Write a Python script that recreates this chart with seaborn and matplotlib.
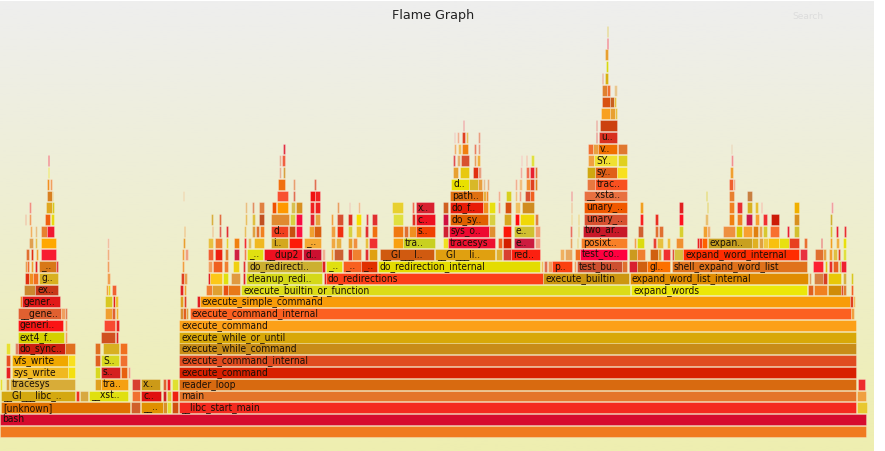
import numpy as np
import pandas as pd
import matplotlib
matplotlib.use("Agg")
import matplotlib.pyplot as plt
import seaborn as sns

# each frame: (function name, first sample, last sample, colour); list index = stack depth
level_00 = [("", 0, 866, "#f07a20")]
level_01 = [("bash", 0, 866, "#d60b2e")]
level_02 = [("[unknown]", 1, 130, "#e07000"), ("", 131, 140, "#d0602a"), ("__..", 141, 163, "#e09000"), ("", 163, 167, "#d8902a"),
            ("", 167, 171, "#e0e030"), ("", 172, 178, "#d05010"), ("__libc_start_main", 179, 856, "#f42a1e"), ("", 857, 867, "#e8c830")]
level_03 = [("__GI___libc_..", 1, 75, "#d4a810"), ("", 76, 79, "#f03020"), ("", 80, 88, "#d8a840"), ("__xst..", 89, 128, "#e0e010"),
            ("", 132, 140, "#f07030"), ("c..", 141, 161, "#e01010"), ("", 163, 166, "#d02020"), ("", 167, 171, "#e0c030"),
            ("", 172, 178, "#ee2010"), ("main", 179, 856, "#e4752a"), ("", 857, 866, "#f0a040")]
level_04 = [("", 0, 2, "#e8e030"), ("", 6, 9, "#d8a040"), ("tracesys", 10, 75, "#d8ac38"), ("", 95, 101, "#e0a020"),
            ("tra..", 101, 128, "#f5a010"), ("", 132, 140, "#d84030"), ("x..", 141, 160, "#cc9a18"), ("", 163, 166, "#e06030"),
            ("", 167, 170, "#f02020"), ("", 172, 178, "#e0e030"), ("reader_loop", 179, 856, "#d86a10"), ("", 858, 865, "#ee2c2c")]
level_05 = [("", 6, 10, "#e82020"), ("sys_write", 12, 68, "#f0b820"), ("", 68, 75, "#f4e010"), ("", 95, 100, "#d8d820"),
            ("s..", 101, 120, "#d42020"), ("", 121, 127, "#e86010"), ("", 128, 130, "#f0a080"), ("execute_command", 179, 856, "#d82000")]
level_06 = [("", 6, 10, "#e85020"), ("vfs_write", 12, 68, "#f0a800"), ("", 68, 75, "#f8e020"), ("", 95, 100, "#e06020"),
            ("S..", 101, 119, "#d8d820"), ("", 120, 127, "#f07030"), ("execute_command_internal", 179, 856, "#e04c20")]
level_07 = [("", 6, 10, "#e8e030"), ("", 15, 18, "#e08060"), ("do_sync..", 18, 65, "#cc2010"), ("", 65, 75, "#e07020"),
            ("", 95, 100, "#e07020"), ("", 103, 119, "#d8b020"), ("", 120, 127, "#f07020"), ("execute_while_command", 179, 856, "#c88c18")]
level_08 = [("ext4_f..", 18, 64, "#d4d000"), ("", 65, 67, "#f0a060"), ("", 101, 115, "#d05020"), ("", 116, 118, "#e02020"),
            ("execute_while_or_until", 179, 856, "#d8a808")]
level_09 = [("generi..", 18, 63, "#fa1414"), ("", 65, 67, "#f0a060"), ("", 104, 115, "#f84830"), ("", 116, 119, "#e82020"),
            ("execute_command", 179, 856, "#fca018")]
level_10 = [("__gene..", 18, 61, "#e06030"), ("", 61, 65, "#f0a060"), ("", 65, 67, "#e08050"), ("", 105, 112, "#f0a030"),
            ("", 112, 115, "#e06030"), ("", 116, 118, "#f0b030"), ("", 180, 183, "#d89030"), ("", 183, 186, "#e06020"),
            ("", 186, 188, "#e0a040"), ("execute_command_internal", 190, 851, "#fc6020"), ("", 851, 854, "#f0a040")]
level_11 = [("", 20, 22, "#f08020"), ("gener..", 22, 60, "#e01818"), ("", 105, 112, "#d8c820"), ("", 113, 115, "#e02020"),
            ("", 115, 118, "#f0c030"), ("", 180, 183, "#e0a020"), ("", 184, 186, "#e04020"), ("", 197, 200, "#e02020"),
            ("execute_simple_command", 200, 850, "#f89c08"), ("", 850, 853, "#e04020"), ("", 853, 855, "#f0c060")]
level_12 = [("", 24, 35, "#cc8830"), ("ex..", 35, 58, "#c83818"), ("", 106, 108, "#f0a040"), ("", 108, 110, "#e8d020"),
            ("", 112, 116, "#f06030"), ("", 180, 183, "#e02020"), ("", 184, 186, "#f0a030"), ("", 206, 212, "#f08030"),
            ("", 212, 222, "#e0a030"), ("", 223, 228, "#e85010"), ("", 228, 240, "#e87818"), ("execute_builtin_or_function", 241, 630, "#dcdc18"),
            ("expand_words", 631, 807, "#ece808"), ("", 808, 813, "#e06020"), ("", 814, 827, "#f08020"), ("", 828, 841, "#d08c08"),
            ("", 841, 843, "#e05030"), ("", 843, 846, "#e08030"), ("", 851, 853, "#f06020")]
level_13 = [("", 25, 29, "#e03010"), ("", 29, 33, "#f09020"), ("", 33, 38, "#f07020"), ("g..", 39, 58, "#d8b020"), ("", 107, 110, "#f0a050"),
            ("", 181, 184, "#e04020"), ("", 184, 187, "#e8a050"), ("", 208, 210, "#e02020"), ("", 210, 222, "#fcc818"), ("", 223, 228, "#e0e010"),
            ("", 231, 240, "#e09a40"), ("", 243, 245, "#e02020"), ("cleanup_redi..", 246, 322, "#d4d818"), ("", 324, 326, "#e02020"),
            ("do_redirections", 326, 543, "#fc4018"), ("execute_builtin", 543, 629, "#cc9610"), ("expand_word_list_internal", 630, 808, "#e08c00"),
            ("", 809, 811, "#e0a060"), ("", 814, 823, "#d88040"), ("", 823, 827, "#d84020"), ("", 828, 841, "#e8c808"), ("", 843, 846, "#d8b040"),
            ("", 851, 853, "#d8c820")]
level_14 = [("", 25, 27, "#e8a050"), ("", 27, 29, "#f07030"), ("", 31, 33, "#f0a030"), ("", 35, 37, "#e02020"), ("_..", 39, 56, "#d87818"),
            ("", 56, 58, "#e04040"), ("", 107, 109, "#f0a060"), ("", 182, 184, "#f0a040"), ("", 208, 212, "#f0a060"), ("", 213, 222, "#f06020"),
            ("", 224, 228, "#f08030"), ("", 233, 239, "#f0d010"), ("", 243, 245, "#e03030"), ("do_redirecti..", 247, 322, "#ccb030"),
            ("", 322, 325, "#e02020"), ("_..", 326, 342, "#e0e010"), ("_..", 343, 361, "#f86020"), ("_..", 361, 377, "#e03000"),
            ("do_redirection_internal", 378, 540, "#e4dc00"), ("", 541, 543, "#f0c060"), ("", 544, 547, "#e07050"), ("", 548, 552, "#f0a060"),
            ("p..", 552, 572, "#fb4010"), ("", 574, 576, "#f0a060"), ("test_bu..", 577, 622, "#cc5030"), ("", 622, 627, "#e07030"),
            ("", 629, 637, "#d82030"), ("", 637, 647, "#d06010"), ("gl..", 647, 670, "#fc7000"), ("shell_expand_word_list", 672, 807, "#e0721c"),
            ("", 813, 823, "#fc2030"), ("", 825, 827, "#e0c010"), ("", 829, 832, "#e8302a"), ("", 833, 838, "#e86020"), ("", 839, 841, "#d8c040"),
            ("", 841, 846, "#ee2030")]
level_15 = [("", 26, 29, "#e07030"), ("", 31, 33, "#e03010"), ("", 36, 38, "#f0a030"), ("", 41, 56, "#f81c30"), ("", 107, 109, "#f0b080"),
            ("", 182, 184, "#f0a040"), ("", 185, 188, "#f0a080"), ("", 208, 213, "#f06030"), ("", 215, 222, "#ee2010"), ("", 225, 228, "#e08030"),
            ("", 234, 239, "#d02040"), ("", 244, 246, "#f08050"), ("_..", 247, 263, "#e0e010"), ("__dup2", 264, 302, "#ee1020"), ("d..", 303, 321, "#cc1030"),
            ("", 322, 325, "#f0b090"), ("", 331, 333, "#f0a030"), ("", 334, 343, "#cc6030"), ("", 348, 352, "#e03020"), ("", 352, 361, "#f08030"),
            ("", 365, 368, "#e03030"), ("", 369, 377, "#e0a010"), ("__GI___l..", 380, 434, "#d05a10"), ("__GI___li..", 435, 495, "#e0a010"),
            ("", 496, 502, "#e0b030"), ("", 503, 511, "#d84030"), ("red..", 511, 540, "#fc2010"), ("", 560, 564, "#f0b060"), ("", 565, 572, "#e8a860"),
            ("", 575, 580, "#f07020"), ("test_co..", 580, 627, "#ff0040"), ("", 629, 637, "#cc9a20"), ("", 637, 645, "#f08030"), ("", 650, 658, "#d06010"),
            ("", 658, 661, "#e0a030"), ("", 663, 670, "#f03030"), ("", 672, 674, "#e05040"), ("", 674, 683, "#d8c040"),
            ("expand_word_internal", 683, 799, "#ff2c00"), ("", 800, 807, "#e83040"), ("", 815, 823, "#e07030"), ("", 823, 826, "#e8a040"),
            ("", 829, 832, "#f0a030"), ("", 833, 837, "#e0c040"), ("", 838, 840, "#e04020"), ("", 843, 846, "#e0e040")]
level_16 = [("", 29, 33, "#e0a050"), ("", 35, 37, "#e8c050"), ("", 41, 56, "#ffa800"), ("", 107, 109, "#f0c0a0"), ("", 183, 185, "#e8a030"),
            ("", 208, 213, "#e8c040"), ("", 215, 222, "#f08030"), ("", 226, 228, "#e8d030"), ("", 234, 239, "#f08010"), ("", 244, 246, "#f03030"),
            ("", 248, 251, "#e0c060"), ("", 254, 264, "#f0b820"), ("i..", 271, 288, "#d4a820"), ("", 289, 302, "#fc1c08"), ("_..", 304, 321, "#f4a830"),
            ("", 331, 335, "#f0a840"), ("", 336, 341, "#e8b040"), ("", 348, 352, "#e8a030"), ("", 353, 357, "#f09040"), ("", 365, 368, "#e8c040"),
            ("", 369, 377, "#f03030"), ("", 393, 403, "#f8a010"), ("tra..", 403, 435, "#c8d020"), ("", 443, 448, "#f0e020"), ("tracesys", 448, 495, "#ee1030"),
            ("", 498, 502, "#f06020"), ("", 503, 511, "#d42000"), ("e..", 514, 534, "#cc1c40"), ("", 535, 540, "#f0a080"), ("", 570, 572, "#e8a060"),
            ("", 577, 578, "#e0c040"), ("posixt..", 581, 627, "#f88028"), ("", 634, 636, "#f0a050"), ("", 637, 644, "#dcdc10"), ("", 653, 656, "#e84030"),
            ("", 657, 663, "#e8c040"), ("", 667, 670, "#f0c040"), ("", 676, 683, "#f09030"), ("", 697, 699, "#e82020"), ("", 699, 702, "#f04020"),
            ("", 702, 707, "#ff6000"), ("expan..", 708, 752, "#c8a020"), ("", 752, 758, "#e0b020"), ("", 759, 763, "#e0a040"), ("", 763, 768, "#f0c840"),
            ("", 768, 779, "#f8c010"), ("", 779, 789, "#e8e010"), ("", 789, 799, "#e84020"), ("", 804, 807, "#e87030"), ("", 821, 822, "#e03030"),
            ("", 830, 832, "#f0a020"), ("", 836, 839, "#f0b040"), ("", 843, 846, "#e8e010")]
level_17 = [("", 30, 32, "#f0b060"), ("", 35, 37, "#e8c080"), ("", 41, 47, "#e88030"), ("", 47, 54, "#f01830"), ("", 184, 185, "#e8a040"),
            ("", 212, 213, "#e8a050"), ("", 219, 221, "#e06050"), ("", 226, 228, "#e03030"), ("", 244, 246, "#e8c060"), ("", 252, 255, "#e0a040"),
            ("", 256, 259, "#e07030"), ("", 260, 264, "#f08020"), ("d..", 271, 288, "#f04020"), ("", 289, 295, "#c85010"), ("", 296, 302, "#fc1040"),
            ("", 309, 314, "#f0a030"), ("", 314, 321, "#d86010"), ("", 331, 335, "#f0a040"), ("", 337, 343, "#f03010"), ("", 348, 352, "#d8d040"),
            ("", 356, 361, "#f0c030"), ("", 365, 368, "#e03030"), ("", 372, 377, "#f07010"), ("", 393, 403, "#f07810"), ("", 404, 408, "#e07030"),
            ("", 409, 416, "#f09020"), ("s..", 416, 435, "#f04000"), ("", 443, 448, "#d02030"), ("sys_o..", 449, 489, "#ee0830"), ("", 489, 495, "#e09030"),
            ("", 503, 511, "#fc1808"), ("e..", 514, 534, "#d0c030"), ("", 535, 540, "#f0a070"), ("", 570, 572, "#e87060"), ("", 578, 579, "#e0c040"),
            ("two_ar..", 583, 627, "#c81828"), ("", 638, 643, "#d06030"), ("", 655, 658, "#e07030"), ("", 659, 663, "#e07030"), ("", 679, 683, "#d8d030"),
            ("", 703, 707, "#f0a030"), ("", 707, 710, "#f0b070"), ("", 723, 735, "#ee9040"), ("", 736, 742, "#d8c800"), ("", 743, 752, "#f8a030"),
            ("", 753, 758, "#e08010"), ("", 759, 762, "#e8a850"), ("", 763, 767, "#d8c830"), ("", 770, 779, "#f87030"), ("", 787, 789, "#e82030"),
            ("", 794, 799, "#d4c030"), ("", 830, 832, "#d8c030"), ("", 836, 838, "#e82030"), ("", 844, 846, "#e83030")]
level_18 = [("", 25, 26, "#e8a070"), ("", 29, 31, "#f0a060"), ("", 45, 50, "#f06010"), ("", 51, 54, "#e8d810"), ("", 211, 213, "#d8b040"),
            ("", 219, 221, "#e07040"), ("", 245, 247, "#e8c060"), ("", 252, 255, "#e0c040"), ("", 259, 264, "#c05020"), ("", 271, 289, "#e08a30"),
            ("", 290, 295, "#d8d040"), ("", 296, 302, "#f80c40"), ("", 310, 314, "#e02030"), ("", 315, 320, "#e8a040"), ("", 331, 333, "#f0a040"),
            ("", 337, 343, "#d85030"), ("", 348, 352, "#e03020"), ("", 356, 361, "#f8e000"), ("", 366, 368, "#e04040"), ("", 372, 377, "#e03030"),
            ("", 393, 403, "#e0e040"), ("", 412, 415, "#e03020"), ("c..", 416, 435, "#ee1020"), ("", 443, 448, "#d01040"), ("do_sy..", 450, 488, "#e06000"),
            ("", 489, 495, "#d8d040"), ("", 504, 511, "#d8a820"), ("", 515, 519, "#ff0c0c"), ("", 520, 534, "#f0d808"), ("", 535, 538, "#e08040"),
            ("", 571, 572, "#e8c060"), ("", 578, 579, "#e8c040"), ("unary_..", 584, 627, "#d85030"), ("", 640, 643, "#f82020"), ("", 655, 658, "#e83020"),
            ("", 679, 683, "#ff1020"), ("", 705, 708, "#e8c070"), ("", 729, 734, "#f08010"), ("", 737, 742, "#f08020"), ("", 746, 752, "#cc1848"),
            ("", 755, 759, "#f8a030"), ("", 763, 767, "#f03030"), ("", 771, 779, "#cc1c08"), ("", 794, 799, "#d89020"), ("", 830, 832, "#d0b030")]
level_19 = [("", 29, 31, "#f09080"), ("", 46, 52, "#e0a820"), ("", 52, 54, "#d8c820"), ("", 245, 247, "#e8c080"), ("", 252, 254, "#e09060"),
            ("", 259, 264, "#e08040"), ("", 272, 276, "#f05000"), ("", 277, 288, "#ff9800"), ("", 291, 295, "#d8c050"), ("", 296, 302, "#d89020"),
            ("", 310, 314, "#f02020"), ("", 315, 320, "#f02020"), ("", 337, 339, "#e8a060"), ("", 349, 350, "#e8b090"), ("", 358, 360, "#f0c090"),
            ("", 392, 403, "#e8d030"), ("", 412, 414, "#f07050"), ("x..", 416, 434, "#d82030"), ("", 443, 448, "#d06020"), ("do_f..", 450, 483, "#e81c08"),
            ("", 483, 488, "#f09020"), ("", 489, 495, "#e8e010"), ("", 498, 500, "#f0a080"), ("", 505, 511, "#d85010"), ("", 515, 520, "#f0c060"),
            ("", 522, 534, "#d08c20"), ("", 571, 572, "#e8a060"), ("unary_..", 584, 627, "#f05800"), ("", 640, 643, "#f0a020"), ("", 679, 683, "#e02020"),
            ("", 707, 708, "#d8c020"), ("", 729, 734, "#f08020"), ("", 737, 742, "#e83030"), ("", 747, 752, "#d8b020"), ("", 755, 758, "#e8c030"),
            ("", 761, 762, "#f0a080"), ("", 794, 799, "#f0b000"), ("", 831, 833, "#f0a0a0")]
level_20 = [("", 47, 52, "#d88020"), ("", 52, 53, "#e8c060"), ("", 183, 184, "#e8c080"), ("", 277, 288, "#f85030"), ("", 293, 295, "#e07050"),
            ("", 310, 315, "#f01010"), ("", 315, 320, "#f02020"), ("path..", 450, 483, "#e07010"), ("", 483, 486, "#e8b040"), ("", 486, 488, "#f09030"),
            ("", 498, 500, "#f0b090"), ("", 506, 511, "#d8d020"), ("", 515, 517, "#f0c080"), ("", 519, 521, "#f0a080"), ("", 525, 530, "#d85030"),
            ("", 530, 534, "#f06020"), ("", 571, 572, "#e86060"), ("__xsta..", 584, 627, "#e87040"), ("", 706, 707, "#d8c820"), ("", 729, 734, "#e88030"),
            ("", 747, 752, "#c88040")]
level_21 = [("", 47, 49, "#f09020"), ("", 50, 52, "#f0a060"), ("", 278, 285, "#f07010"), ("", 293, 295, "#e8a070"), ("", 314, 316, "#e07050"),
            ("d..", 451, 469, "#e8e000"), ("", 469, 478, "#d8b828"), ("", 478, 482, "#e8a040"), ("", 483, 485, "#e8c090"), ("", 487, 489, "#e8b080"),
            ("", 515, 517, "#f0b090"), ("", 519, 522, "#f0c080"), ("", 526, 530, "#f09030"), ("", 530, 534, "#e04020"), ("", 535, 537, "#e08020"),
            ("", 587, 595, "#e87840"), ("trac..", 595, 627, "#f85020"), ("", 729, 733, "#f06030"), ("", 733, 735, "#f0b090")]
level_22 = [("", 48, 49, "#e8e020"), ("", 283, 285, "#d8a040"), ("", 279, 281, "#e8b090"), ("", 453, 458, "#e8a030"), ("", 460, 469, "#e8c810"),
            ("", 473, 478, "#e03010"), ("", 478, 481, "#e8a080"), ("", 520, 522, "#f0b0a0"), ("", 526, 529, "#f07050"), ("", 530, 534, "#e82030"),
            ("", 535, 537, "#e07030"), ("sy..", 595, 617, "#e06018"), ("", 587, 595, "#d0a810"), ("", 617, 627, "#f8e020"), ("", 730, 733, "#f0a030")]
level_23 = [("", 48, 49, "#ee3040"), ("", 279, 281, "#e8b090"), ("", 282, 285, "#f06040"), ("", 453, 455, "#e05050"), ("", 457, 460, "#e8b070"),
            ("", 461, 469, "#d85030"), ("", 474, 476, "#e8a060"), ("", 477, 480, "#f0b040"), ("", 521, 522, "#f0b0a0"), ("", 526, 527, "#f0a080"),
            ("", 531, 534, "#e0e040"), ("", 588, 594, "#f0a040"), ("SY..", 594, 617, "#f0e030"), ("", 618, 627, "#e0d020"), ("", 731, 733, "#f09090")]
level_24 = [("", 283, 285, "#e03040"), ("", 454, 456, "#f0b070"), ("", 458, 461, "#f0c060"), ("", 462, 468, "#f08010"), ("", 474, 476, "#e88060"),
            ("", 478, 480, "#e8a080"), ("", 588, 593, "#f07030"), ("", 593, 598, "#e8a040"), ("v..", 598, 617, "#f07000"), ("", 618, 627, "#e07830"),
            ("", 731, 732, "#e0c090")]
level_25 = [("", 454, 455, "#e8b0a0"), ("", 457, 459, "#f0b090"), ("", 462, 465, "#e04020"), ("", 466, 468, "#e8c060"), ("", 478, 480, "#e8a080"),
            ("", 596, 597, "#e05040"), ("u..", 599, 617, "#d83020")]
level_26 = [("", 463, 464, "#e87070"), ("", 596, 597, "#e07060"), ("", 600, 617, "#cc4010")]
level_27 = [("", 601, 610, "#f8a020"), ("", 610, 615, "#e8a030"), ("", 615, 617, "#e8c040")]
level_28 = [("", 602, 610, "#d85010"), ("", 610, 614, "#c86020"), ("", 614, 616, "#e8c040")]
level_29 = [("", 602, 607, "#e08030"), ("", 607, 610, "#f07030"), ("", 614, 617, "#e8c890")]
level_30 = [("", 602, 603, "#e08060"), ("", 605, 608, "#d8b010")]
level_31 = [("", 606, 608, "#d8d810")]
level_32 = [("", 605, 608, "#e8a030")]
level_33 = [("", 607, 608, "#ee3040")]
level_34 = [("", 607, 608, "#d8c040")]

stack_levels = [level_00, level_01, level_02, level_03, level_04, level_05, level_06, level_07, level_08,
                level_09, level_10, level_11, level_12, level_13, level_14, level_15, level_16, level_17,
                level_18, level_19, level_20, level_21, level_22, level_23, level_24, level_25, level_26,
                level_27, level_28, level_29, level_30, level_31, level_32, level_33, level_34]

title_text = "Flame Graph"
search_text = "Search"

frames = pd.DataFrame(
    [(depth, *frame) for depth, level in enumerate(stack_levels) for frame in level],
    columns=["depth", "name", "start", "end", "color"],
)
frames["width"] = frames["end"] - frames["start"]

sns.set_theme(style="white", rc={"axes.grid": False})
plt.rcParams["font.family"] = ["DejaVu Sans"]

W, H = 885, 451
ROW_PX, BASE_PX = 11.76, 431.2
fig = plt.figure(figsize=(W / 100, H / 100), dpi=100, facecolor="white")
ax = fig.add_axes([0, 0, 1, 1])
ax.set_xlim(0, W)
ax.set_ylim((BASE_PX - H) / ROW_PX, BASE_PX / ROW_PX)
ax.axis("off")

# backdrop gradient
cmap = sns.blend_palette(["#eeeeee", "#eeeeb0"], as_cmap=True)
y0, y1 = ax.get_ylim()
ax.imshow(np.linspace(0, 1, 256).reshape(-1, 1), cmap=cmap, aspect="auto", zorder=0,
          extent=(0, 874, y0, (BASE_PX - 2) / ROW_PX), origin="upper")
ax.set_xlim(0, W)
ax.set_ylim(y0, y1)

ax.barh(frames["depth"], frames["width"], left=frames["start"], height=0.92,
        color=frames["color"], edgecolor=(1, 1, 1, 0.3), linewidth=0.6, zorder=2)

for row in frames[frames["name"] != ""].itertuples():
    ax.text(row.start + 2, row.depth, row.name, fontsize=7.3, color="#1a1008", fontstretch="condensed",
            ha="left", va="center", zorder=3)

ax.text(433, (BASE_PX - 15.5) / ROW_PX, title_text, fontsize=9.2, color="#222222", ha="center", va="center")
ax.text(808, (BASE_PX - 16.5) / ROW_PX, search_text, fontsize=6.5, color="#dcdcdc", ha="center", va="center")

fig.savefig("out.png", dpi=100)
